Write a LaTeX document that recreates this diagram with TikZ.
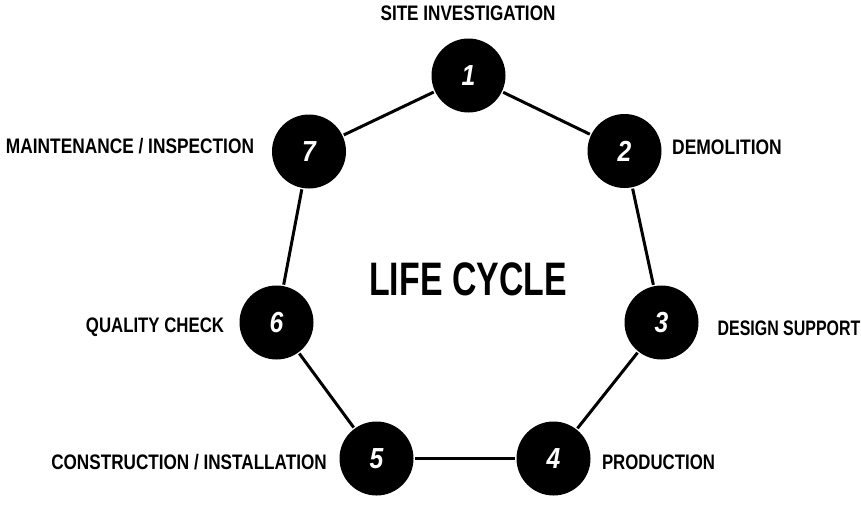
\documentclass[tikz,border=0pt]{standalone}
\usepackage{fontspec}
\setmainfont{Liberation Sans}
\newcommand{\stagenum}[1]{\scalebox{.85}[1]{#1}}
\tikzset{
  stagenode/.style={circle,fill=black,text=white,minimum size=74pt,inner sep=0pt,font=\bfseries\itshape\fontsize{29}{29}\selectfont},
  stagelabel/.style={font=\bfseries\fontsize{21}{21}\selectfont,inner sep=0pt,xscale=.8},
  titlelabel/.style={font=\bfseries\fontsize{47}{47}\selectfont,inner sep=0pt,xscale=.72}
}
\begin{document}
\begin{tikzpicture}[x=1pt,y=-1pt,line width=3pt]
  \useasboundingbox (0,0) rectangle (861,507);
  \node[stagenode] (n1) at (468.5,75.5) {\stagenum{1}};
  \node[stagenode] (n2) at (624.5,151) {\stagenum{2}};
  \node[stagenode] (n3) at (661.5,322.5) {\stagenum{3}};
  \node[stagenode] (n4) at (553.5,458.5) {\stagenum{4}};
  \node[stagenode] (n5) at (376.5,458.5) {\stagenum{5}};
  \node[stagenode] (n6) at (276.5,322.5) {\stagenum{6}};
  \node[stagenode] (n7) at (309,151.5) {\stagenum{7}};
  \path[draw]
        (n1) edge (n2)
        (n2) edge (n3)
        (n3) edge (n4)
        (n4) edge (n5)
        (n5) edge (n6)
        (n6) edge (n7)
        (n7) edge (n1);
  \node[stagelabel,xscale=1.02] (l1) at (468,13.5) {SITE INVESTIGATION};
  \node[stagelabel,xscale=1.04] (l2) at (727,147.5) {DEMOLITION};
  \node[stagelabel,xscale=.95] (l3) at (789,328.5) {DESIGN SUPPORT};
  \node[stagelabel] (l4) at (658.5,462) {PRODUCTION};
  \node[stagelabel,xscale=1.02] (l5) at (189,462) {CONSTRUCTION / INSTALLATION};
  \node[stagelabel] (l6) at (155,327) {QUALITY CHECK};
  \node[stagelabel,xscale=1.03] (l7) at (130,146) {MAINTENANCE / INSPECTION};
  \node[titlelabel] (title) at (468,279) {LIFE CYCLE};
\end{tikzpicture}
\end{document}
